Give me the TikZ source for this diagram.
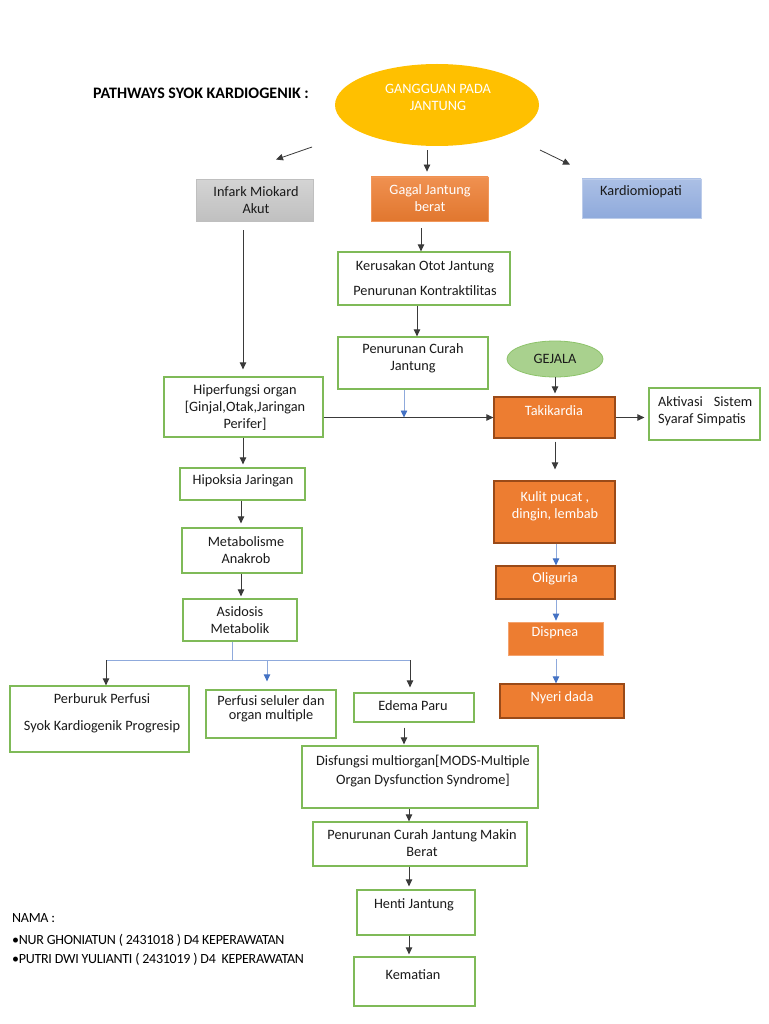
\documentclass[tikz,border=0pt]{standalone}
\usepackage{fontspec}
\setmainfont{Carlito}
\usetikzlibrary{arrows.meta,shapes.geometric,fit,calc}
\definecolor{bgreen}{HTML}{7FBA58}
\definecolor{orng}{HTML}{ED7D31}
\definecolor{dorng}{HTML}{9A4A18}
\definecolor{lorng}{HTML}{F4A36E}
\definecolor{gold}{HTML}{FFC000}
\definecolor{lgreen}{HTML}{A9D18E}
\definecolor{egreen}{HTML}{8DC36A}
\definecolor{agray}{HTML}{3A3A3A}
\definecolor{lblue}{HTML}{8FAADC}
\definecolor{dblue}{HTML}{4472C4}
\definecolor{txtc}{HTML}{1A1A1A}
\begin{document}
\begin{tikzpicture}[x=1pt,y=-1pt,
  gbox/.style={draw=bgreen,line width=1.3pt,fill=white,inner sep=0pt},
  obox/.style={draw=dorng,line width=1.3pt,fill=orng,inner sep=0pt},
  txt/.style={inner sep=0pt,align=center,text=txtc,font=\fontsize{14.3}{17}\selectfont},
  wtxt/.style={txt,text=white},
  ntxt/.style={inner sep=0pt,anchor=west,text=black,font=\fontsize{14}{16}\selectfont\addfontfeatures{LetterSpace=-2}},
  arr/.style={draw=agray,line width=0.8pt,-{Triangle[length=7pt,width=6.5pt]},color=agray},
  barr/.style={draw=lblue,line width=0.8pt,-{Triangle[length=7pt,width=6.5pt,fill=dblue,color=dblue]}},
  bline/.style={draw=lblue,line width=0.8pt}]
\useasboundingbox[fill=white] (0,0) rectangle (768,1024);

% title
\node[txt,anchor=west,text=black,font=\fontsize{16}{18}\selectfont\bfseries] (title) at (93,93) {PATHWAYS SYOK KARDIOGENIK :};

% top ellipse
\node[ellipse,fill=gold,minimum width=204pt,minimum height=82pt,inner sep=0pt] (ell) at (437,105) {};
\node[wtxt] (tell) at (438,97.5) {GANGGUAN PADA\\JANTUNG};

% boxes
\node[fit={(196,180)(313,222)},inner sep=0pt,draw=black!25,line width=1pt,top color=black!17,bottom color=black!25] (infark) {};
\node[fit={(371,177)(488,221)},inner sep=0pt,draw=orng!80,line width=0.8pt,top color=orng!85!white,bottom color=orng!95!black] (gagal) {};
\node[fit={(582,179)(701,218)},inner sep=0pt,draw=lblue!60,line width=0.8pt,top color=lblue!75,bottom color=lblue] (kardio) {};
\node[gbox,fit={(338,252)(510,305)}] (kerus) {};
\node[gbox,fit={(338,337)(488,389)}] (curah) {};
\node[gbox,fit={(164,377)(323,437)}] (hiper) {};
\node[obox,fit={(494,397)(615,438)}] (taki) {};
\node[gbox,fit={(649,388)(760,440)}] (aktiv) {};
\node[obox,fit={(494,481)(615,543)}] (kulit) {};
\node[obox,fit={(496,566)(615,599)}] (olig) {};
\node[fit={(508,622)(603,655)},inner sep=0pt,fill=orng,draw=lorng,line width=0.8pt] (disp) {};
\node[obox,fit={(500,684)(624,718)}] (nyeri) {};
\node[gbox,fit={(180,468)(305,500)}] (hipok) {};
\node[gbox,fit={(182,528)(302,573)}] (metab) {};
\node[gbox,fit={(183,599)(297,641)}] (asid) {};
\node[gbox,fit={(10,686)(189,752)}] (perb) {};
\node[gbox,fit={(206,690)(336,738)}] (perf) {};
\node[gbox,fit={(354,693)(474,722)}] (edema) {};
\node[gbox,fit={(302,746)(538,808)}] (disf) {};
\node[gbox,fit={(313,822)(527,866)}] (pcjm) {};
\node[gbox,fit={(357,890)(475,935)}] (henti) {};
\node[gbox,fit={(354,957)(475,1006)}] (kemat) {};
\node[ellipse,fill=lgreen,draw=egreen,line width=0.8pt,minimum width=96pt,minimum height=36pt,inner sep=0pt] (gejala) at (555,359) {};

% texts
\node[txt] (t1) at (256,200.5) {Infark Miokard\\Akut};
\node[wtxt] (t2) at (430,198.5) {Gagal Jantung\\berat};
\node[txt] (t3) at (641,192) {Kardiomiopati};
\node[txt] (t4) at (425,278.5) {Kerusakan Otot Jantung\\[8pt]Penurunan Kontraktilitas};
\node[txt] (t5) at (413,358.5) {Penurunan Curah\\Jantung};
\node[txt] (t6) at (245,408) {Hiperfungsi organ\\{}[Ginjal,Otak,Jaringan\\Perifer]};
\node[txt] (t7) at (555,359) {GEJALA};
\node[wtxt] (t8) at (554,411) {Takikardia};
\node[txt,align=left,anchor=west] (t9) at (658,411) {Aktivasi\hspace{11pt}Sistem\\Syaraf Simpatis};
\node[wtxt] (t10) at (555,506.5) {Kulit pucat ,\\dingin, lembab};
\node[wtxt] (t11) at (555,579) {Oliguria};
\node[wtxt] (t12) at (555,633) {Dispnea};
\node[wtxt] (t13) at (562,698) {Nyeri dada};
\node[txt] (t14) at (243,481) {Hipoksia Jaringan};
\node[txt] (t15) at (246,550.5) {Metabolisme\\Anakrob};
\node[txt] (t16) at (240,620.5) {Asidosis\\Metabolik};
\node[txt] (t17) at (102,713.5) {Perburuk Perfusi\\[10pt]Syok Kardiogenik Progresip};
\node[txt,font=\fontsize{14.3}{14}\selectfont] (t18) at (271,709) {Perfusi seluler dan\\organ multiple};
\node[txt] (t19) at (413,706) {Edema Paru};
\node[txt,font=\fontsize{14.3}{19}\selectfont] (t20) at (423,771.5) {Disfungsi multiorgan[MODS-Multiple\\Organ Dysfunction Syndrome]};
\node[txt] (t21) at (422,843.5) {Penurunan Curah Jantung Makin\\Berat};
\node[txt] (t22) at (414,905) {Henti Jantung};
\node[txt] (t23) at (413,975) {Kematian};

\node[ntxt] (n1) at (12,918) {NAMA :};
\node[ntxt] (n2) at (12,940) {•NUR GHONIATUN ( 2431018 ) D4 KEPERAWATAN};
\node[ntxt] (n3) at (12,959) {•PUTRI DWI YULIANTI ( 2431019 ) D4\ \ KEPERAWATAN};

% connectors from ellipse
\draw[arr] ($(ell.center)+(-125,42)$) -- ($(infark.north)+(21.5,-20)$);
\draw[arr] ($(ell.south)+(-10,4)$) -- ($(gagal.north)+(-2.5,-5)$);
\draw[arr] ($(ell.center)+(103,45)$) -- ($(kardio.north)+(-71.5,-14)$);

% middle column
\draw[arr,shorten <=7pt] (gagal.south -| 421,0) -- (kerus.north -| 421,0);
\draw[arr] (kerus.south -| 417,0) -- (curah.north -| 417,0);
\coordinate (j1) at (404,417.5);
\draw[arr] (hiper.east |- taki.west) -- (taki.west);
\draw[barr] (curah.south -| j1) -- (j1);
\draw[arr,shorten <=8pt,shorten >=7pt] (infark.south -| 243,0) -- (hiper.north -| 243,0);

% right column
\draw[arr,shorten >=3pt] (gejala.south) -- (taki.north -| gejala.south);
\draw[arr,shorten >=4pt] (taki.east) -- (aktiv.west |- taki.east);
\draw[arr,shorten <=3pt,shorten >=11pt] (taki.south -| 555,0) -- (kulit.north -| 555,0);
\draw[barr] (kulit.south -| 556,0) -- (olig.north -| 556,0);
\draw[barr,shorten >=1pt] (olig.south -| 556,0) -- (disp.north -| 556,0);
\draw[barr,shorten <=4pt] (disp.south -| 556,0) -- (nyeri.north -| 556,0);

% left column
\draw[arr,shorten >=3pt] (hiper.south -| 243,0) -- (hipok.north -| 243,0);
\draw[arr,shorten >=4pt] (hipok.south -| 241,0) -- (metab.north -| 241,0);
\draw[arr,shorten >=2pt] (metab.south -| 241,0) -- (asid.north -| 241,0);

% branch
\coordinate (bC) at (232,660);
\coordinate (bL) at (106,660);
\coordinate (bM) at (267,660);
\coordinate (bR) at (410,660);
\draw[bline] (asid.south -| bC) -- (bC);
\draw[bline] (bL) -- (bR);
\draw[arr] (bL) -- (perb.north -| bL);
\draw[barr,shorten >=8pt] (bM) -- (perf.north -| bM);
\draw[arr,shorten >=5pt] (bR) -- (edema.north -| bR);

% bottom chain
\draw[arr,shorten <=5pt,shorten >=1pt] (edema.south -| 404,0) -- (disf.north -| 404,0);
\draw[arr] (disf.south -| 409,0) -- (pcjm.north -| 409,0);
\draw[arr,shorten >=3pt] (pcjm.south -| 409,0) -- (henti.north -| 409,0);
\draw[arr,shorten >=2pt] (henti.south -| 409,0) -- (kemat.north -| 409,0);
\end{tikzpicture}
\end{document}
